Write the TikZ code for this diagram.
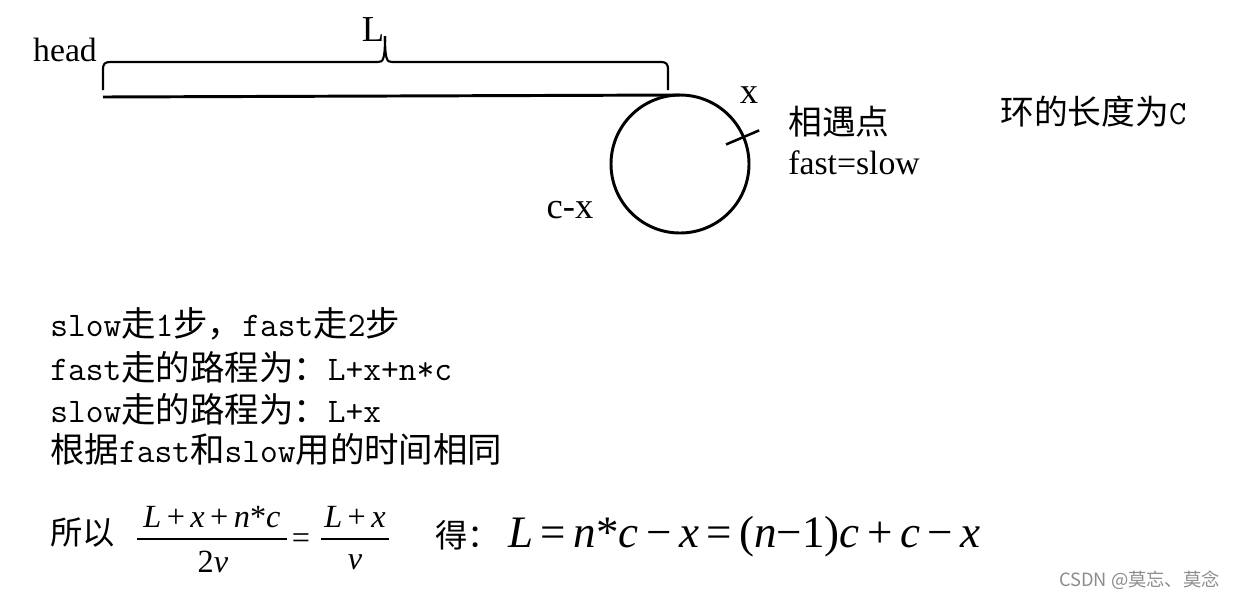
\documentclass[tikz,border=0pt]{standalone}
\usepackage{fontspec}
\setmainfont{Liberation Serif}
\newfontfamily\cjk{Noto Sans CJK SC}
\usetikzlibrary{calc}
\def\m#1{{\ttfamily #1}}
\tikzset{
  lbl/.style={inner sep=0pt, font=\fontsize{24}{28}\selectfont},
  cjklbl/.style={inner sep=0pt, anchor=west, font=\fontsize{24}{28}\selectfont\cjk},
  stepline/.style={inner sep=0pt, anchor=west, font=\fontsize{24.5}{28}\selectfont\cjk},
  fracpart/.style={inner sep=0pt, font=\fontsize{23}{26}\selectfont},
  bigmath/.style={inner sep=0pt, anchor=west, font=\fontsize{32}{36}\selectfont},
  wire/.style={line width=2.1pt},
}
\begin{document}
\begin{tikzpicture}[x=0.025cm, y=-0.025cm]
			%%%%% START %%%%%
			\useasboundingbox (0,0) rectangle (1235,601);
			\coordinate (ring) at (680,164);
			\coordinate (start) at (103,97);
			\coordinate (top) at (680,95);
			
			\node[lbl] (head) at (65,50) {head};
			\node[lbl, font=\fontsize{26}{28}\selectfont] (len) at (373,30) {L};
			
			\draw[line width=1.5pt] (103,90) -- (103,69) .. controls (103,64) and (105,62) .. (110,62) -- (378,62) .. controls (383,62) and (385,60) .. (385,36);
			\draw[line width=1.5pt] (385,36) .. controls (385,60) and (387,62) .. (392,62) -- (661,62) .. controls (666,62) and (668,64) .. (668,69) -- (668,90);
			
			\draw[wire] (start) -- (top);
			\draw[wire] (ring) circle (69);
			\draw[line width=1.8pt] ($(ring)+(-23:50)$) -- ($(ring)+(-23:86)$);
			
			\node[lbl, font=\fontsize{26}{28}\selectfont] (xmark) at (749,95) {x};
			\node[cjklbl] (meet) at (788,122) {相遇点};
			\node[lbl, anchor=west] (equal) at (788,163) {fast=slow};
			\node[lbl, font=\fontsize{26}{28}\selectfont] (rest) at (570,210) {c-x};
			\node[cjklbl] (ringlen) at (1000,112) {环的长度为\m{C}};
			
			\node[stepline] (s1) at (50,324) {\m{slow}走\m{1}步，\m{fast}走\m{2}步};
			\node[stepline] (s2) at (50,367) {\m{fast}走的路程为：\m{L+x+n*c}};
			\node[stepline] (s3) at (50,409) {\m{slow}走的路程为：\m{L+x}};
			\node[stepline] (s4) at (50,449) {根据\m{fast}和\m{slow}用的时间相同};
			
			\node[cjklbl, font=\fontsize{23}{26}\selectfont\cjk] (so) at (50,532) {所以};
			\node[fracpart] (num1) at (212,517) {\textit{L}\,+\,\textit{x}\,+\,\textit{n}*\textit{c}};
			\draw[line width=1pt] (137,539) -- (287,539);
			\node[fracpart] (den1) at (213,562) {2\textit{v}};
			\node[fracpart] (eq1) at (301,541) {=};
			\node[fracpart] (num2) at (355,517) {\textit{L}\,+\,\textit{x}};
			\draw[line width=1pt] (321,539) -- (389,539);
			\node[fracpart] (den2) at (355,562) {\textit{v}};
			\node[cjklbl, font=\fontsize{23}{26}\selectfont\cjk] (get) at (435,535) {得：};
			\node[bigmath] (result) at (508,537) {\textit{L}\,=\,\textit{n}*\textit{c}\,−\,\textit{x}\,=\,(\textit{n}−1)\textit{c}\,+\,\textit{c}\,−\,\textit{x}};
			
			\node[inner sep=0pt, anchor=east, text=black!45, font=\fontsize{13}{15}\selectfont\cjk] (mark) at (1220,580) {CSDN @莫忘、莫念};
			%%%%% END %%%%%
\end{tikzpicture}
\end{document}
